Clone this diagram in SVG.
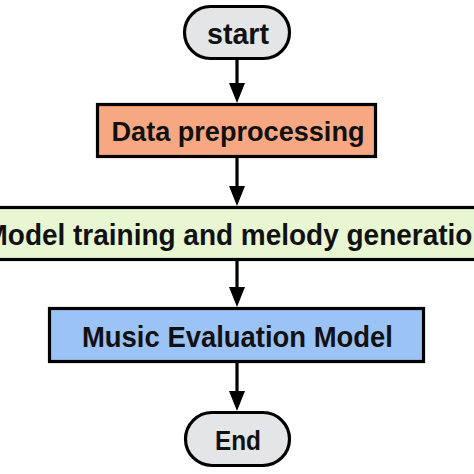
<svg xmlns="http://www.w3.org/2000/svg" width="474" height="474" viewBox="0 0 474 474">
<defs>
<style>
.box{stroke:#000;stroke-width:3.2}
.term{fill:#e4e5e6;stroke:#000;stroke-width:3.2}
.lbl{font-family:"Liberation Sans",Arial,sans-serif;font-weight:bold;fill:#111;text-anchor:middle}
.conn{stroke:#000;stroke-width:3.2;fill:none}
.head{fill:#000}
</style>
</defs>
<rect width="474" height="474" fill="#fff"/>
<g id="connectors">
<line class="conn" x1="237" y1="59" x2="237" y2="84"/><path class="head" d="M229,83 L245,83 L237,103 Z"/>
<line class="conn" x1="237" y1="158" x2="237" y2="187"/><path class="head" d="M229,186 L245,186 L237,206 Z"/>
<line class="conn" x1="237" y1="261" x2="237" y2="288"/><path class="head" d="M229,287 L245,287 L237,307 Z"/>
<line class="conn" x1="237" y1="363" x2="237" y2="392"/><path class="head" d="M229,391 L245,391 L237,411 Z"/>
</g>
<g id="start">
<rect class="term" x="184.5" y="6.5" width="105" height="52" rx="26"/>
<text class="lbl" x="238" y="43.5" font-size="29" textLength="62" lengthAdjust="spacingAndGlyphs">start</text>
</g>
<g id="data">
<rect class="box" x="97.5" y="104.5" width="278" height="52" fill="#f7a882"/>
<text class="lbl" x="238" y="140.5" font-size="28" textLength="253" lengthAdjust="spacingAndGlyphs">Data preprocessing</text>
</g>
<g id="model">
<rect class="box" x="-5" y="207.5" width="484" height="52" fill="#e8f6d2"/>
<text class="lbl" x="237" y="244.5" font-size="29" textLength="505" lengthAdjust="spacingAndGlyphs">Model training and melody generation</text>
</g>
<g id="music">
<rect class="box" x="49.5" y="308.5" width="374" height="53" fill="#9cc3f6"/>
<text class="lbl" x="237.5" y="346.5" font-size="29" textLength="311" lengthAdjust="spacingAndGlyphs">Music Evaluation Model</text>
</g>
<g id="end">
<rect class="term" x="185.5" y="412.5" width="104" height="53" rx="26.5"/>
<text class="lbl" x="238" y="449.5" font-size="28" textLength="46" lengthAdjust="spacingAndGlyphs">End</text>
</g>
</svg>
